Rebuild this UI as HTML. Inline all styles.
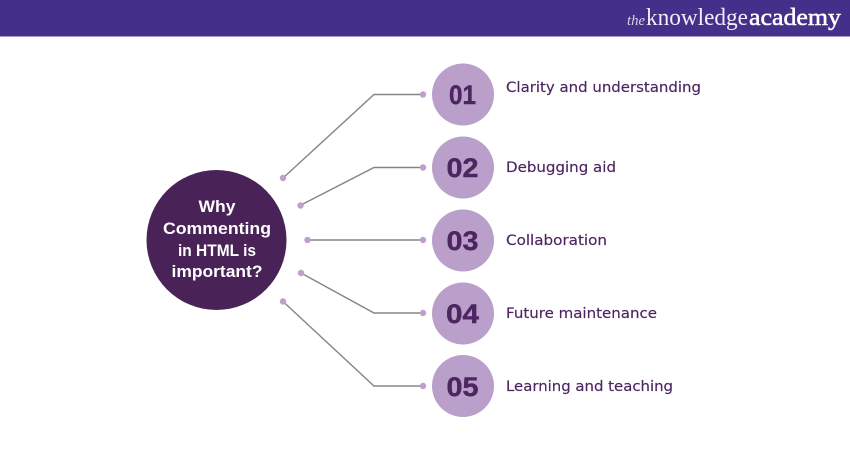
<!DOCTYPE html>
<html>
<head>
<meta charset="utf-8">
<style>
html,body{margin:0;padding:0;background:#fff}
svg{display:block}
text{font-family:"DejaVu Sans","Liberation Sans",sans-serif}
text.serif{font-family:"Liberation Serif",serif}
text.lib,.lib text{font-family:"Liberation Sans",sans-serif}
</style>
</head>
<body>
<svg width="850" height="450" viewBox="0 0 850 450" xmlns="http://www.w3.org/2000/svg">
<rect width="850" height="450" fill="#fff"/>
<rect width="850" height="36.500" fill="#44308a"/>
<text class="serif" x="627" y="25" font-style="italic" font-size="15" fill="#d8d0e8" textLength="18" lengthAdjust="spacingAndGlyphs">the</text>
<text class="serif" x="646" y="25" font-size="24" fill="#f1eef7" textLength="102" lengthAdjust="spacingAndGlyphs">knowledge</text>
<text class="serif" x="749" y="25" font-size="24" fill="#fff" stroke="#fff" stroke-width="0.5" textLength="92" lengthAdjust="spacingAndGlyphs">academy</text>

<g fill="none" stroke="#858585" stroke-width="1.4">
<polyline points="283,178 374,94.500 423,94.500"/>
<polyline points="300,205.500 374,167.500 423,167.500"/>
<polyline points="307,240 423,240"/>
<polyline points="301,273 374,313 423,313"/>
<polyline points="283,301.500 374,386 423,386"/>
</g>
<g fill="#bf9fcd">
<circle cx="283" cy="178" r="3.200"/><circle cx="300.500" cy="205.500" r="3.200"/><circle cx="307.500" cy="240" r="3.200"/><circle cx="301" cy="273" r="3.200"/><circle cx="283" cy="301.500" r="3.200"/>
<circle cx="423" cy="94.500" r="3.200"/><circle cx="423" cy="167.500" r="3.200"/><circle cx="423" cy="240" r="3.200"/><circle cx="423" cy="313" r="3.200"/><circle cx="423" cy="386" r="3.200"/>
</g>

<circle cx="216.500" cy="240" r="70" fill="#492257"/>
<g class="lib" fill="#fff" font-size="17" font-weight="bold" text-anchor="middle">
<text x="217" y="212" textLength="37" lengthAdjust="spacingAndGlyphs">Why</text>
<text x="217" y="234" textLength="108" lengthAdjust="spacingAndGlyphs">Commenting</text>
<text x="217" y="256" textLength="78" lengthAdjust="spacingAndGlyphs">in HTML is</text>
<text x="217" y="277" textLength="91" lengthAdjust="spacingAndGlyphs">important?</text>
</g>

<g fill="#b99fc9">
<circle cx="463" cy="94.500" r="31"/><circle cx="463" cy="167.500" r="31"/><circle cx="463" cy="240.500" r="31"/><circle cx="463" cy="313.500" r="31"/><circle cx="463" cy="386" r="31"/>
</g>
<g class="lib" fill="#4c2561" stroke="#4c2561" stroke-width="0.4" font-size="27" font-weight="bold" text-anchor="middle">
<text x="462.500" y="104" textLength="27" lengthAdjust="spacingAndGlyphs">01</text>
<text x="462.500" y="177" textLength="32" lengthAdjust="spacingAndGlyphs">02</text>
<text x="462.500" y="250" textLength="32" lengthAdjust="spacingAndGlyphs">03</text>
<text x="462.500" y="323" textLength="33" lengthAdjust="spacingAndGlyphs">04</text>
<text x="462.500" y="396" textLength="32" lengthAdjust="spacingAndGlyphs">05</text>
</g>
<g fill="#4c2561" stroke="#4c2561" stroke-width="0.15" font-size="14">
<text x="506" y="92" textLength="195" lengthAdjust="spacingAndGlyphs">Clarity and understanding</text>
<text x="506" y="172" textLength="110" lengthAdjust="spacingAndGlyphs">Debugging aid</text>
<text x="506" y="245" textLength="101" lengthAdjust="spacingAndGlyphs">Collaboration</text>
<text x="506" y="318" textLength="151" lengthAdjust="spacingAndGlyphs">Future maintenance</text>
<text x="506" y="391" textLength="167" lengthAdjust="spacingAndGlyphs">Learning and teaching</text>
</g>
</svg>
</body>
</html>
